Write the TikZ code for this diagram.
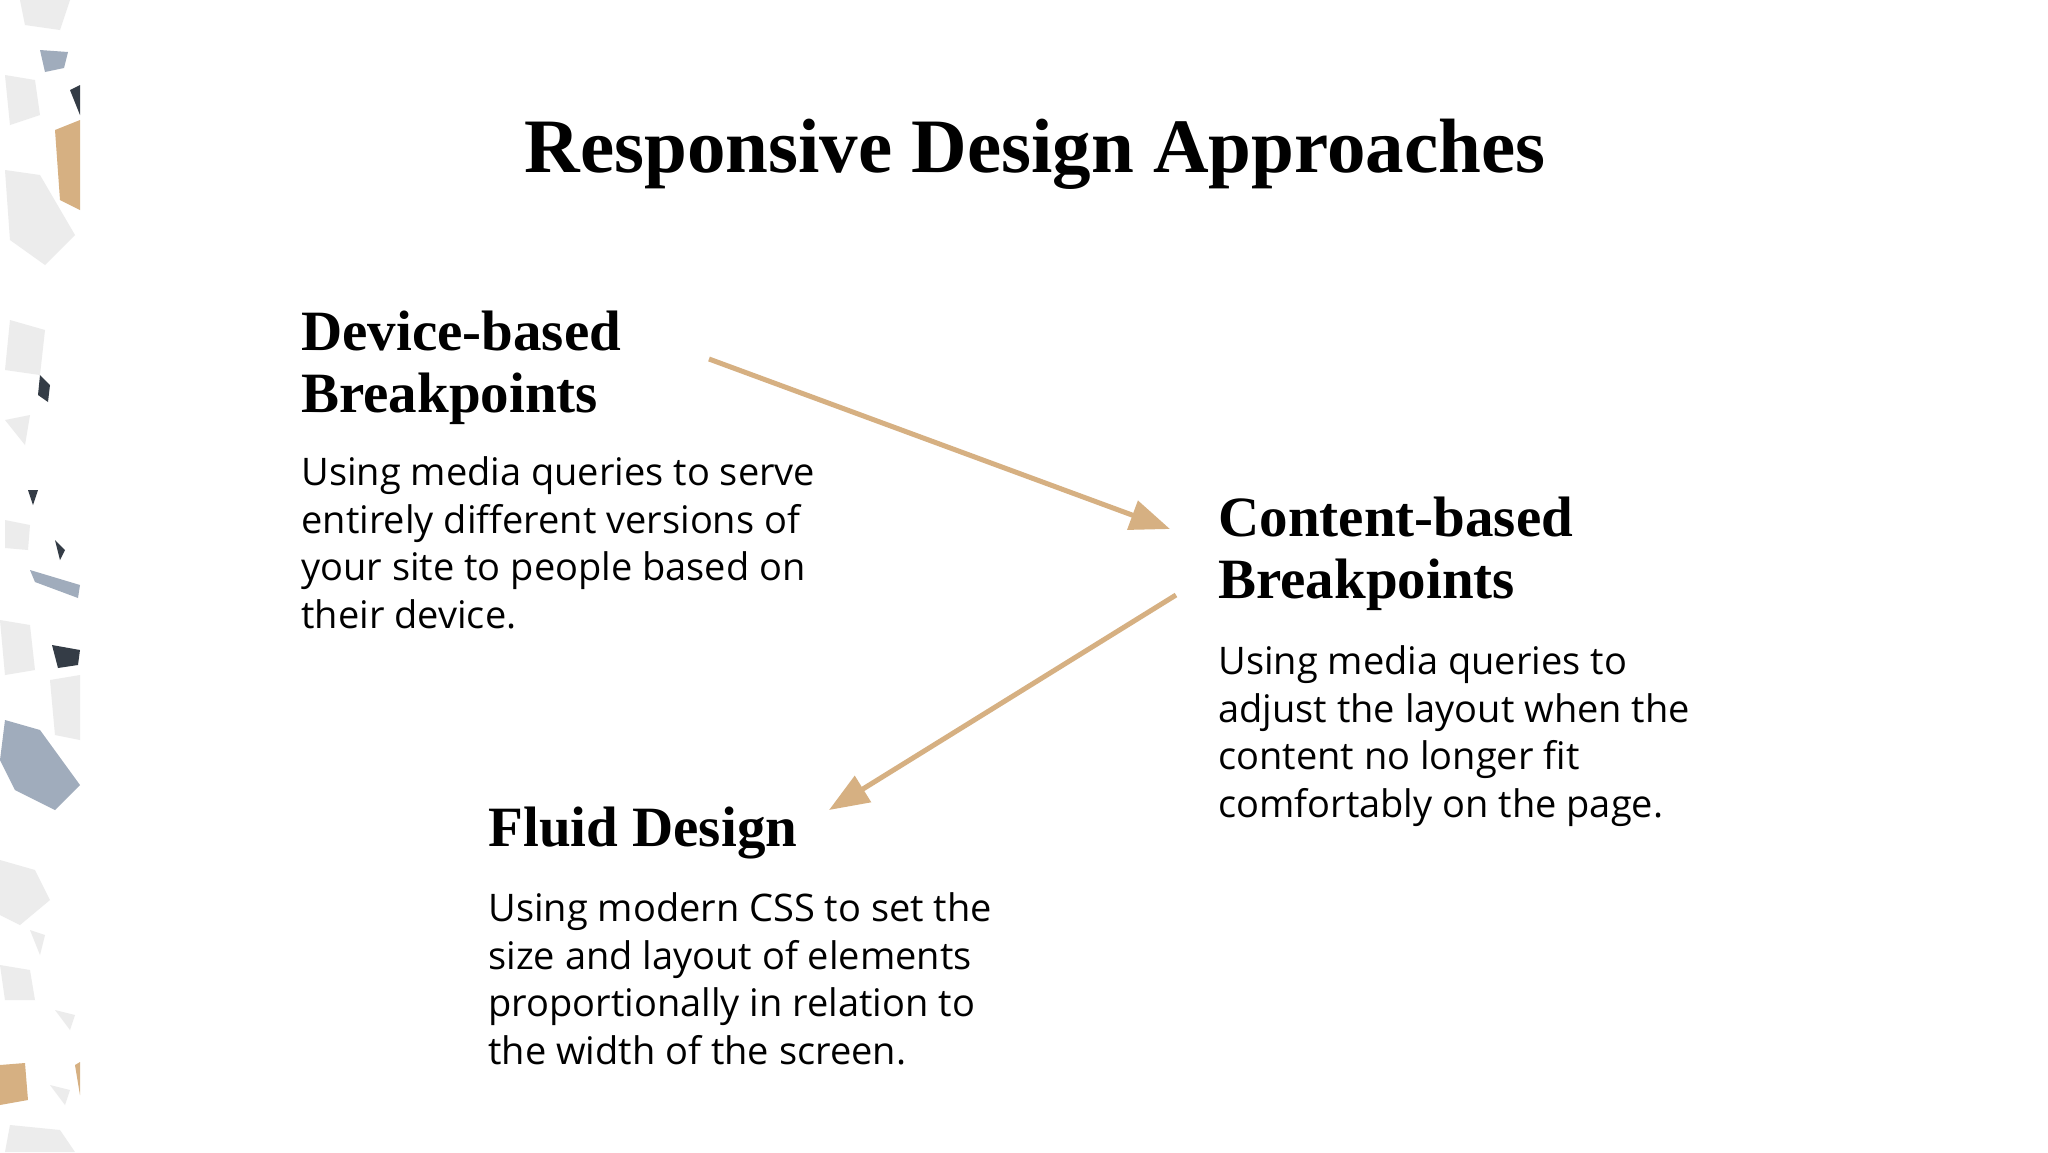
\documentclass[tikz,border=0pt]{standalone}
\usepackage{fontspec}
\setmainfont{Liberation Serif}
\newfontfamily\bodyfont{Open Sans}
\usetikzlibrary{arrows.meta}
\definecolor{tan}{RGB}{214,176,130}
\definecolor{slate}{RGB}{160,172,188}
\definecolor{ink}{RGB}{52,60,70}
\definecolor{chip}{RGB}{236,236,236}
\tikzset{every picture/.style={line width=0.75pt}}
\tikzset{
  headtext/.style={anchor=base west,inner sep=0pt,align=left,font=\fontsize{57}{62}\selectfont\bfseries},
  bodytext/.style={anchor=base west,inner sep=0pt,align=left,font=\bodyfont\fontsize{38}{47.5}\selectfont},
  flowarrow/.style={draw=tan,line width=5pt,-{Triangle[length=40pt,width=30pt]}}
}
\begin{document}
\begin{tikzpicture}[x=1pt,y=1pt,yscale=-1,xscale=1]
\useasboundingbox (0,0) rectangle (2048,1152);
\fill[white] (0,0) rectangle (2048,1152);

% terrazzo strip
\begin{scope}
\clip (0,0) rectangle (80,1152);
\fill[chip] (20,0) -- (70,0) -- (60,30) -- (25,25) -- cycle;
\fill[slate] (40,50) -- (68,52) -- (64,68) -- (45,72) -- cycle;
\fill[chip] (5,75) -- (35,80) -- (40,115) -- (10,125) -- cycle;
\fill[ink] (70,90) -- (80,85) -- (80,115) -- cycle;
\fill[tan] (55,130) -- (80,120) -- (80,210) -- (60,200) -- cycle;
\fill[chip] (5,170) -- (40,175) -- (75,235) -- (45,265) -- (10,240) -- cycle;
\fill[chip] (10,320) -- (45,330) -- (40,375) -- (5,370) -- cycle;
\fill[ink] (40,375) -- (50,385) -- (48,402) -- (38,395) -- cycle;
\fill[chip] (5,420) -- (30,415) -- (25,445) -- cycle;
\fill[ink] (28,490) -- (38,490) -- (33,505) -- cycle;
\fill[chip] (5,520) -- (30,525) -- (28,550) -- (5,548) -- cycle;
\fill[ink] (55,540) -- (65,550) -- (60,560) -- cycle;
\fill[slate] (30,570) -- (80,585) -- (78,598) -- (35,582) -- cycle;
\fill[chip] (0,620) -- (30,625) -- (35,670) -- (5,675) -- cycle;
\fill[ink] (52,645) -- (80,650) -- (78,665) -- (58,668) -- cycle;
\fill[chip] (50,680) -- (80,675) -- (80,740) -- (55,735) -- cycle;
\fill[slate] (5,720) -- (40,730) -- (80,785) -- (55,810) -- (15,790) -- (0,760) -- cycle;
\fill[chip] (0,860) -- (35,870) -- (50,900) -- (20,925) -- (0,915) -- cycle;
\fill[chip] (30,930) -- (45,935) -- (40,955) -- cycle;
\fill[chip] (0,965) -- (30,970) -- (35,1000) -- (5,1000) -- cycle;
\fill[chip] (55,1010) -- (75,1015) -- (70,1030) -- cycle;
\fill[tan] (0,1065) -- (25,1063) -- (28,1100) -- (0,1105) -- cycle;
\fill[chip] (50,1085) -- (70,1090) -- (65,1105) -- cycle;
\fill[tan] (75,1065) -- (80,1062) -- (80,1095) -- cycle;
\fill[chip] (10,1125) -- (60,1130) -- (75,1152) -- (5,1152) -- cycle;
\end{scope}

% Title
\node[anchor=base,inner sep=0pt,font=\fontsize{77}{84}\selectfont\bfseries] (title) at (1035,172) {Responsive Design Approaches};

% Device-based
\node[headtext] (devhead) at (301,412) {Device-based\\Breakpoints};
\node[bodytext] (devbody) at (301,628) {Using media queries to serve\\entirely different versions of\\your site to people based on\\their device.};

% Content-based
\node[headtext] (conthead) at (1218,598) {Content-based\\Breakpoints};
\node[bodytext] (contbody) at (1218,817) {Using media queries to\\adjust the layout when the\\content no longer fit\\comfortably on the page.};

% Fluid
\node[headtext] (fluidhead) at (488,846) {Fluid Design};
\node[bodytext] (fluidbody) at (488,1064) {Using modern CSS to set the\\size and layout of elements\\proportionally in relation to\\the width of the screen.};

% arrows
\coordinate (devout) at (709,359);
\coordinate (contin) at (1170,529);
\coordinate (contout) at (1176,595);
\coordinate (fluidin) at (829,810);
\draw[flowarrow] (devout) -- (contin);
\draw[flowarrow] (contout) -- (fluidin);

\end{tikzpicture}
\end{document}
